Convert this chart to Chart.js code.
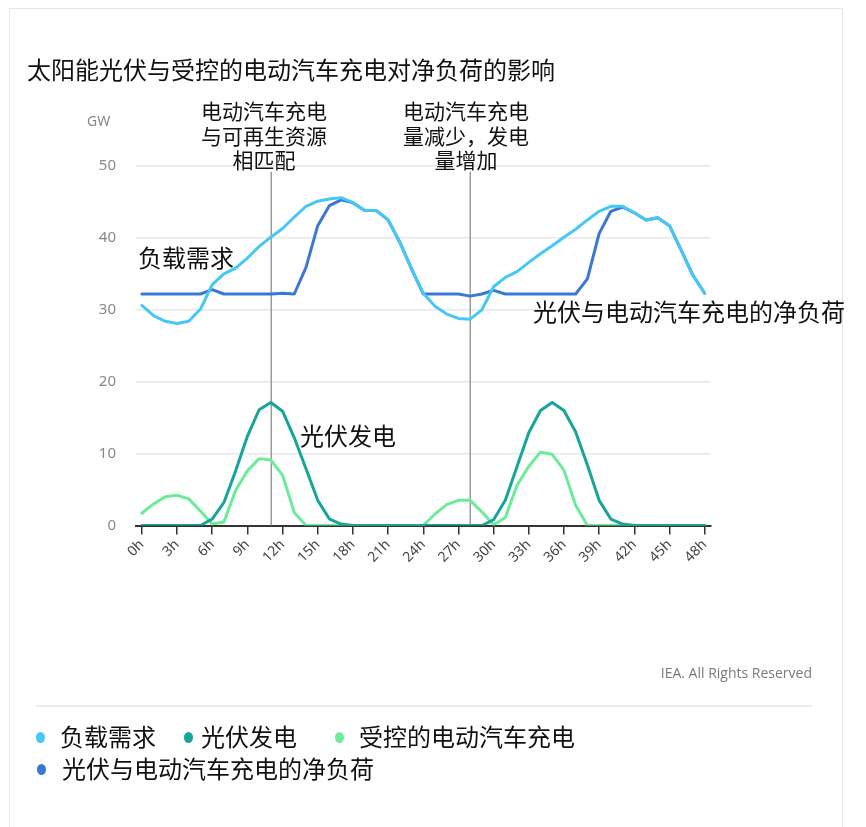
<!DOCTYPE html>
<html>
<head>
<meta charset="utf-8">
<script src="https://cdn.jsdelivr.net/npm/chart.js@4.4.1/dist/chart.umd.min.js"></script>
<style>
  html, body { margin: 0; padding: 0; background: #fff; }
  body { width: 866px; height: 827px; position: relative; overflow: hidden;
         font-family: "Noto Sans CJK SC", "Noto Sans", sans-serif; color: #111; }
  #frame { position: absolute; left: 9px; top: 8px; width: 834px; height: 830px;
           border: 1px solid #e6e6e6; box-sizing: border-box; }
  canvas { position: absolute; left: 0; top: 0; }
  .t { position: absolute; white-space: nowrap; }
  .dot { position: absolute; width: 9px; height: 11px; border-radius: 50%; }
</style>
</head>
<body>
<div id="frame"></div>
<canvas id="c" width="866" height="827"></canvas>

<div class="t" style="left:27px; top:54px; font-size:24px; line-height:30px;">太阳能光伏与受控的电动汽车充电对净负荷的影响</div>
<div class="t" style="left:87px; top:112px; font-size:14px; line-height:18px; color:#888; font-family:'Noto Sans',sans-serif;">GW</div>

<div class="t" style="left:184px; top:98px; width:160px; text-align:center; font-size:21px; line-height:24.5px;">电动汽车充电<br>与可再生资源<br>相匹配</div>
<div class="t" style="left:386px; top:98px; width:160px; text-align:center; font-size:21px; line-height:24.5px;">电动汽车充电<br>量减少，发电<br>量增加</div>

<div class="t" style="left:138px; top:242px; font-size:24px; line-height:30px;">负载需求</div>
<div class="t" style="left:300px; top:420px; font-size:24px; line-height:30px;">光伏发电</div>
<div class="t" style="left:533px; top:296px; font-size:24px; line-height:30px;">光伏与电动汽车充电的净负荷</div>

<div class="t" style="right:54px; top:663px; font-size:14px; line-height:20px; color:#7a7a7a; font-family:'Open Sans',sans-serif;">IEA. All Rights Reserved</div>
<div style="position:absolute; left:36px; top:705px; width:776px; height:2px; background:#ececec;"></div>

<div id="legend"></div>

<script>
// ---- data ----
const hours = ['0h','1h','2h','3h','4h','5h','6h','7h','8h','9h','10h','11h','12h','13h','14h','15h','16h',
  '17h','18h','19h','20h','21h','22h','23h','24h','25h','26h','27h','28h','29h','30h','31h','32h','33h',
  '34h','35h','36h','37h','38h','39h','40h','41h','42h','43h','44h','45h','46h','47h','48h'];
const tickLabels = ['0h','3h','6h','9h','12h','15h','18h','21h','24h','27h','30h','33h','36h','39h','42h','45h','48h'];

const loadDemand = [30.6,29.2,28.4,28.1,28.4,30.1,33.5,35.0,35.8,37.2,38.8,40.1,41.3,42.9,44.4,45.1,45.4,
  45.6,44.9,43.8,43.8,42.5,39.4,35.7,32.3,30.5,29.4,28.8,28.7,30.0,33.2,34.5,35.3,36.6,
  37.8,38.9,40.1,41.2,42.5,43.7,44.4,44.4,43.5,42.5,42.8,41.7,38.3,34.8,32.3];
const solarPV = [0,0,0,0,0,0,0.9,3.2,7.6,12.4,16.1,17.1,15.9,12.2,7.9,3.5,0.9,
  0.2,0,0,0,0,0,0,0,0,0,0,0,0,0.8,3.5,8.2,12.9,
  16.0,17.1,16.0,13.0,8.4,3.5,0.9,0.2,0,0,0,0,0,0,0];
const evCharging = [1.7,3.0,4.0,4.2,3.7,2.0,0.2,0.5,4.9,7.6,9.3,9.1,7.0,1.8,0,0,0,
  0,0,0,0,0,0,0,0,1.6,2.9,3.5,3.5,1.9,0.1,1.1,5.6,8.2,
  10.2,9.9,7.7,2.8,0,0,0,0,0,0,0,0,0,0,0];
const netLoad = [32.2,32.2,32.2,32.2,32.2,32.2,32.8,32.2,32.2,32.2,32.2,32.2,32.3,32.2,35.9,41.7,44.5,
  45.3,44.9,43.8,43.8,42.5,39.4,35.7,32.2,32.2,32.2,32.2,31.9,32.2,32.7,32.2,32.2,32.2,
  32.2,32.2,32.2,32.2,34.3,40.6,43.7,44.3,43.5,42.5,42.8,41.7,38.3,34.8,32.3];

const seriesNames = ['负载需求','光伏发电','受控的电动汽车充电','光伏与电动汽车充电的净负荷'];
const seriesColors = ['#45C8F5','#17A59A','#6CEB98','#3B78D6'];
const markerHours = ['11h','28h'];
const markerTopValue = 49.2;

// ---- legend (HTML) ----
const legendSpots = [[40,737,60],[188,737,201],[339,737,359],[41,769,62]];
const lg = document.getElementById('legend');
seriesNames.forEach((n,i) => {
  const [dx, cy, tx] = legendSpots[i];
  const d = document.createElement('div');
  d.className = 'dot';
  d.style.left = (dx - 4.5) + 'px'; d.style.top = (cy - 5.5) + 'px';
  d.style.background = seriesColors[i];
  lg.appendChild(d);
  const t = document.createElement('div');
  t.className = 't';
  t.style.left = tx + 'px'; t.style.top = (cy - 16) + 'px';
  t.style.fontSize = '24px'; t.style.lineHeight = '30px';
  t.textContent = n;
  lg.appendChild(t);
});

// ---- vertical marker plugin ----
const markerPlugin = {
  id: 'markers',
  beforeDatasetsDraw(chart) {
    const xs = chart.scales.x, ys = chart.scales.y, ctx = chart.ctx;
    ctx.save();
    ctx.strokeStyle = '#9c9c9c';
    ctx.lineWidth = 1.5;
    markerHours.forEach(h => {
      const px = Math.round(xs.getPixelForValue(hours.indexOf(h))) + 0.25;
      ctx.beginPath();
      ctx.moveTo(px, ys.getPixelForValue(markerTopValue));
      ctx.lineTo(px, ys.getPixelForValue(0));
      ctx.stroke();
    });
    ctx.restore();
  }
};

const datasets = [loadDemand, solarPV, evCharging, netLoad].map((arr, i) => ({
  label: seriesNames[i],
  data: arr,
  borderColor: seriesColors[i],
  backgroundColor: seriesColors[i],
  borderWidth: 3,
  pointRadius: 0,
  tension: 0,
  borderJoinStyle: 'round',
  borderCapStyle: 'round',
  fill: false
}));

new Chart(document.getElementById('c'), {
  type: 'line',
  data: { labels: hours, datasets },
  plugins: [markerPlugin],
  options: {
    responsive: false,
    animation: false,
    devicePixelRatio: 1,
    layout: { padding: { left: 96, top: 166, right: 155.5, bottom: 251.5 } },
    plugins: { legend: { display: false }, tooltip: { enabled: false }, title: { display: false } },
    scales: {
      x: {
        type: 'category',
        offset: true,
        grid: {
          offset: false,
          drawOnChartArea: false,
          drawTicks: true,
          tickLength: 9,
          lineWidth: 1.5,
          color: (ctx) => (ctx.tick && tickLabels.includes(hours[ctx.index])) ? '#333' : 'rgba(0,0,0,0)'
        },
        border: { display: true, color: '#333', width: 2 },
        ticks: {
          autoSkip: false,
          minRotation: 45,
          maxRotation: 45,
          padding: 2,
          color: '#444',
          font: { size: 14, family: "'Noto Sans', sans-serif" },
          callback: (v, i) => tickLabels.includes(hours[i]) ? hours[i] : ''
        },
        afterFit(s) { s.height = 50; s.paddingLeft = 0; s.paddingRight = 0; }
      },
      y: {
        min: 0,
        max: 50,
        ticks: { stepSize: 10, padding: 20, color: '#888', font: { size: 15, family: "'Noto Sans', sans-serif" } },
        grid: { color: '#e8e8e8', lineWidth: 1.5, drawTicks: false },
        border: { display: false },
        afterFit(s) { s.width = 40; s.paddingTop = 0; s.paddingBottom = 0; }
      }
    }
  }
});
</script>
</body>
</html>
